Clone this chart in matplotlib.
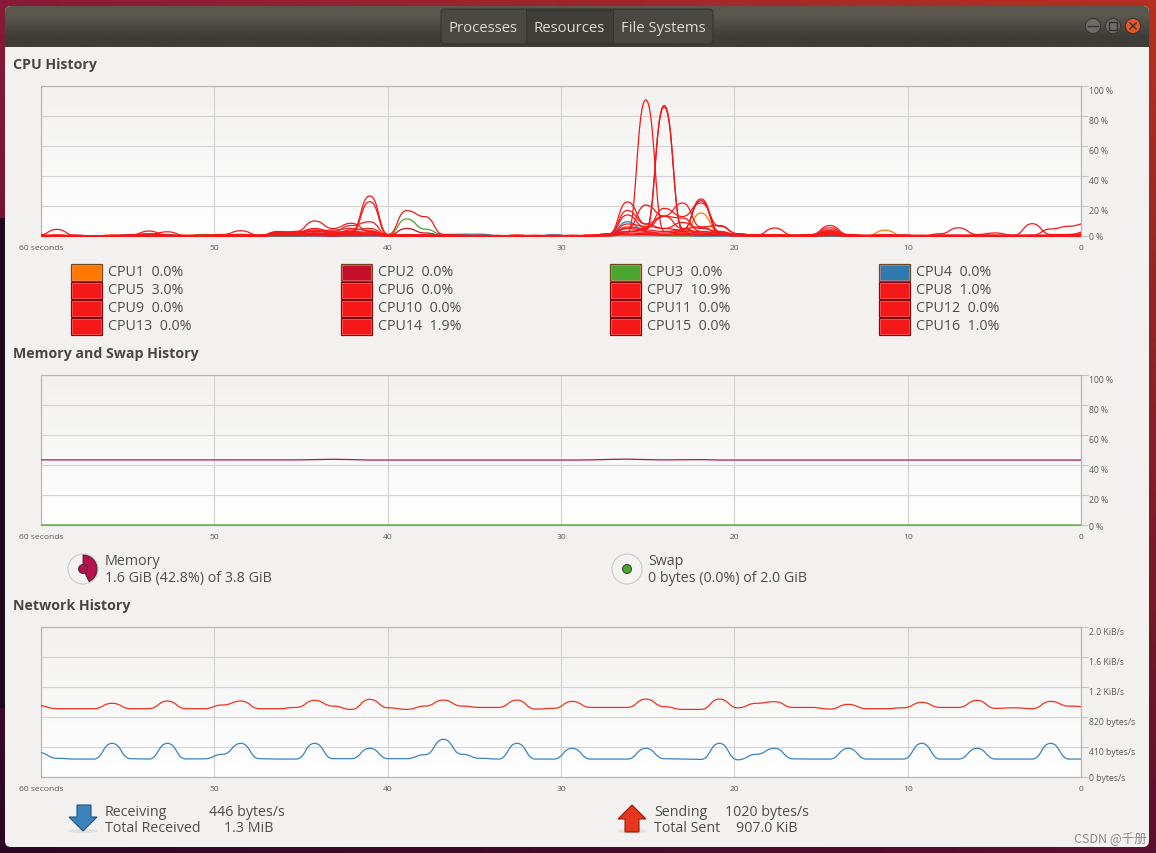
import numpy as np
import matplotlib
matplotlib.use('Agg')
import matplotlib.pyplot as plt
from matplotlib.colors import to_rgb
from matplotlib.path import Path
from matplotlib.patches import PathPatch, Rectangle, Circle, Wedge, Polygon, FancyBboxPatch, Ellipse

W, H = 1156, 854
plt.rcParams['font.family'] = ['Open Sans', 'DejaVu Sans']

# one sample every 1.06 s, listed oldest first (left to right on the chart)
SAMPLE_STEP = 1.0616
SAMPLE_NEWEST = -0.37

x_ticks = [60, 50, 40, 30, 20, 10, 0]
x_labels = ['60 seconds', '50', '40', '30', '20', '10', '0']
pct_ticks = [0, 20, 40, 60, 80, 100]
pct_labels = ['0 %', '20 %', '40 %', '60 %', '80 %', '100 %']
net_ticks = [0, 409.6, 819.2, 1228.8, 1638.4, 2048]
net_labels = ['0 bytes/s', '410 bytes/s', '820 bytes/s', '1.2 KiB/s', '1.6 KiB/s', '2.0 KiB/s']

cpu1 = [1, 0, 0, 0, 0.5, 0.5, 0, 0, 0.5, 1,
        0.5, 0, 0, 0, 0.5, 0.5, 0.5, 0, 0.5, 1,
        0, 0, 0, 0.5, 0, 0, 0.5, 0, 0.5, 0,
        0, 0.5, 1, 1.5, 1, 1, 15.3, 2, 1, 0,
        0, 0, 0.5, 2.5, 1, 0, 3.9, 0, 0, 0,
        0, 0, 0, 0, 0, 0, 1, 0]
cpu2 = [0, 0, 0.5, 0, 0, 0, 0.5, 0, 0, 0.5,
        0, 0, 0, 0.5, 0.5, 1, 0, 1.5, 1, 0.5,
        5, 2, 0.5, 0, 0, 0, 0, 0, 0, 0,
        0, 0.5, 3, 4, 86, 4, 23.5, 2, 0.5, 0,
        0.5, 0, 0, 1.5, 0, 0, 0, 0, 0, 0,
        0, 0, 0, 0, 0, 0, 0, 0]
cpu3 = [0, 0, 0, 0, 0, 0, 0, 0, 0, 1,
        0, 0, 0.5, 0, 0, 1, 1, 1.5, 0.5, 0.5,
        11.4, 4.6, 1, 0.3, 0, 0, 0, 0, 0, 0,
        0, 1, 0.5, 0.5, 0.3, 0, 0.3, 0.5, 0.3, 0,
        0, 0, 0, 0, 0, 0, 0, 0, 0, 0,
        0, 0, 0, 0, 0, 0, 0, 0]
cpu4 = [0, 0, 0, 0, 0, 1, 1.6, 1, 0, 0,
        0, 0, 0, 0, 0, 0, 0, 0, 0, 0,
        0.5, 0.5, 1, 1.2, 1.2, 0.3, 0, 0, 0.8, 0,
        0, 1, 9.5, 3, 1, 0.5, 0, 0, 0, 0,
        0, 0, 0, 0, 0, 0, 0, 0.5, 0, 0,
        0, 0, 0, 0, 0, 0, 0, 0]
cpu5 = [0.5, 4.4, 0.3, 0, 0.3, 0.5, 1, 0.5, 0.3, 0.5,
        0.5, 1, 0.5, 1.5, 2, 3, 2.5, 3, 26.7, 1,
        0.5, 0.5, 0.3, 0, 0.3, 0, 0, 0.5, 0, 0,
        0.5, 1, 2, 90.7, 3, 2, 1, 1, 1, 0.5,
        0.5, 0.5, 1, 1.5, 0.5, 0.3, 0.5, 0.3, 0, 0.5,
        0.3, 0.5, 0.3, 0.3, 0.5, 0.5, 1, 3]
cpu6 = [0, 0.5, 0.3, 0, 0.3, 0.5, 3.3, 0.5, 0.3, 0,
        0.5, 1, 0.5, 2, 1.5, 2, 1.5, 2, 22.9, 0.5,
        0.5, 0.5, 0.3, 0, 0, 0.3, 0, 0, 0.5, 0,
        0.5, 1.5, 3, 4, 87, 5, 2, 1, 0.5, 0.5,
        1, 0.5, 0.5, 1, 0.5, 0, 0.3, 0.3, 0.5, 0.3,
        0.5, 0.3, 0.5, 0.3, 0.3, 0.5, 0.5, 0.5]
cpu7 = [0.3, 0.5, 0, 0, 0.3, 0.5, 1, 2.8, 0.3, 0.5,
        1, 3.5, 0.5, 2, 3, 10, 5, 8.5, 3, 1,
        16.9, 12.9, 1, 0.5, 0.3, 0, 0.5, 0, 0.3, 0,
        0.5, 1.5, 22.7, 8, 5, 4, 24.7, 3, 1, 0.5,
        5.3, 0.5, 1, 7, 1, 0.5, 1, 0.5, 0.3, 0.5,
        0.5, 0.5, 0.5, 0.5, 0.5, 4.7, 6.5, 8.5]
cpu8 = [0.5, 0, 0.5, 0, 0.5, 0, 1, 0.3, 0, 0,
        0.5, 1, 0.3, 3, 2.5, 5, 3, 7, 9.5, 0.5,
        0.5, 0.5, 0, 0, 0.5, 0.3, 0, 0, 0, 0.5,
        0, 1, 17, 8, 13.3, 22, 6, 2, 0.5, 1,
        0.5, 0, 0.5, 4, 0.5, 0.3, 0.5, 0.5, 0, 1.5,
        5.5, 1, 2, 0.5, 8.2, 1, 1, 1]
cpu9 = [0, 0.5, 0, 0, 0, 0.3, 0.5, 0.5, 0, 0.3,
        0.3, 0.5, 0, 2.5, 2, 4, 1.5, 4, 5, 0.5,
        1, 0.5, 0.3, 0, 0, 0.3, 0, 0.3, 0, 0,
        0.3, 1, 5, 20.6, 13.3, 5, 6, 7, 1.5, 0.5,
        0.5, 0, 0.5, 2.5, 0.3, 0, 0.5, 0.5, 0, 0.5,
        0.3, 0.3, 0, 0, 0.5, 0.3, 0.5, 0]
cpu10 = [0, 0, 0, 0.3, 0, 0.3, 0.5, 0, 0.3, 0,
         0.5, 0.5, 0, 1.5, 3, 3, 4, 5, 3.5, 0.3,
         0.5, 0.5, 0.3, 0.5, 0, 0, 0.5, 0, 0.3, 0,
         0, 0.5, 6, 5, 18.4, 13, 22, 6.5, 1.5, 0.3,
         0.5, 0.3, 0, 4, 0.5, 0, 0, 0, 0.3, 0,
         0, 0.5, 0.3, 0, 0, 0, 0.5, 0]
cpu11 = [0.3, 0.5, 0, 0, 0, 0.5, 0, 0.3, 0, 0.3,
         0, 0.5, 0.3, 2, 1.5, 3.5, 2.5, 3, 2.5, 0.5,
         0, 0, 0.5, 0.3, 0, 0, 0, 0, 0, 0.3,
         0.3, 1, 14, 5.5, 13, 12, 3, 2, 1, 0.5,
         0.3, 0.5, 0.3, 5.5, 0.5, 0.3, 0.3, 0.3, 0, 0.3,
         0.3, 0, 0.3, 0.5, 0, 0.3, 0, 0]
cpu12 = [0, 0.3, 0, 0, 0, 0.3, 0.3, 0, 0.3, 0,
         0.3, 0, 0, 1, 0.5, 2, 1.5, 2.5, 2, 0.3,
         0.3, 0.3, 0, 0, 0.3, 0, 0.3, 0, 0, 0,
         0.3, 0.5, 8, 6.5, 5, 9, 5, 3, 0.5, 0.3,
         0.3, 0, 0.3, 3, 0.3, 0, 0, 0.3, 0.3, 0,
         0, 0.3, 0.3, 0, 0, 0, 0.3, 0]
cpu13 = [0.3, 0, 0.3, 0, 0, 0, 0.3, 0.3, 0, 0,
         0, 0.3, 0, 0.5, 0.5, 1.5, 1, 1.5, 1.5, 0,
         0.3, 0, 0, 0, 0, 0.3, 0, 0.3, 0, 0,
         0, 0.5, 5, 4, 3, 4, 3, 2, 0.3, 0,
         0, 0.3, 0, 1.5, 0, 0, 0, 0, 0.3, 0,
         0.3, 0, 0, 0, 0, 0.3, 0, 0]
cpu14 = [0, 0.3, 0, 0, 0.3, 0, 0, 0.3, 0, 0,
         0.3, 0, 0, 1.2, 1, 1, 0.5, 1, 1, 0.3,
         0, 0, 0, 0, 0, 0, 0, 0, 0.3, 0,
         0, 0.3, 3, 2.5, 2, 3, 2, 1, 0.3, 0.3,
         0.3, 0, 0, 1, 0, 0.3, 0, 0, 0, 0,
         0, 0, 0, 0.3, 0, 0, 0.3, 1.9]
cpu15 = [0, 0, 0.3, 0, 0, 0.3, 0, 0, 0, 0.3,
         0, 0.3, 0, 0.5, 0.5, 0.5, 0.5, 0.5, 0.5, 0,
         0, 0.3, 0, 0, 0, 0, 0, 0, 0, 0,
         0.3, 0, 2, 1.5, 1, 2, 1, 0.5, 0.5, 0,
         0, 0, 0.3, 0.5, 0, 0, 0, 0, 0, 0.3,
         0, 0, 0, 0, 0.3, 0, 0, 0]
cpu16 = [0.3, 0, 0, 0, 0, 0, 0.3, 0, 0, 0,
         0, 0, 0.3, 0.3, 0.3, 0.3, 0, 0.3, 0.3, 0.3,
         0, 0, 0.3, 0, 0, 0.3, 0, 0, 0, 0.3,
         0, 0.3, 1, 1, 0.5, 1, 0.5, 0.5, 0, 0,
         0.3, 0, 0, 0.3, 0.3, 0, 0, 0.3, 0, 0,
         0.3, 0, 0, 0, 0, 0, 0.3, 1.0]
cpu_values = [cpu1, cpu2, cpu3, cpu4, cpu5, cpu6, cpu7, cpu8,
              cpu9, cpu10, cpu11, cpu12, cpu13, cpu14, cpu15, cpu16]
cpu_percent = ['0.0%', '0.0%', '0.0%', '0.0%', '3.0%', '0.0%', '10.9%', '1.0%',
               '0.0%', '0.0%', '0.0%', '0.0%', '0.0%', '1.9%', '0.0%', '1.0%']
RED = '#f51818'
cpu_colors = ['#ff7800', '#c40f2b', '#4aa52e', '#2f7bb0'] + [RED] * 12

memory = [43.4, 43.4, 43.4, 43.4, 43.4, 43.4, 43.4, 43.4, 43.4, 43.4,
          43.4, 43.4, 43.4, 43.4, 43.4, 43.6, 43.8, 43.6, 43.3, 43.3,
          43.3, 43.3, 43.3, 43.3, 43.3, 43.3, 43.3, 43.3, 43.3, 43.3,
          43.4, 43.7, 43.9, 43.6, 43.4, 43.5, 43.6, 43.3, 43.3, 43.3,
          43.3, 43.3, 43.3, 43.3, 43.3, 43.3, 43.3, 43.3, 43.3, 43.3,
          43.3, 43.3, 43.3, 43.3, 43.3, 43.3, 43.3, 43.3]
swap = [0] * 58

sending = [973, 933, 933, 933, 1006, 933, 933, 1037, 933, 933,
           983, 1037, 933, 933, 950, 1046, 968, 923, 1060, 945,
           923, 968, 1050, 968, 950, 950, 1050, 928, 937, 1032,
           950, 950, 950, 1064, 960, 923, 923, 1064, 945, 1006,
           1028, 950, 950, 928, 991, 933, 933, 945, 1019, 950,
           950, 1046, 937, 945, 933, 1032, 968, 960]
receiving = [335, 255, 245, 245, 460, 250, 245, 460, 247, 248,
             310, 460, 250, 245, 245, 460, 250, 250, 392, 250,
             250, 305, 515, 310, 255, 245, 460, 245, 245, 392,
             245, 245, 245, 392, 250, 245, 240, 460, 235, 310,
             392, 248, 245, 245, 392, 245, 245, 245, 460, 245,
             245, 392, 245, 245, 245, 460, 245, 245]

TEXT = '#4e4e4e'
TITLE = '#464646'
LABEL = '#5a5a5a'
BODY = '#f2f1f0'
FONT = 10.3


def smooth_path(values):
    # same curve the system monitor draws: flat tangents at every sample
    n = len(values)
    ages = SAMPLE_NEWEST + SAMPLE_STEP * np.arange(n - 1, -1, -1)
    verts = [(ages[0], values[0])]
    codes = [Path.MOVETO]
    for i in range(1, n):
        mid = (ages[i - 1] + ages[i]) / 2
        verts += [(mid, values[i - 1]), (mid, values[i]), (ages[i], values[i])]
        codes += [Path.CURVE4] * 3
    return Path(verts, codes)


def graph_axes(top, ymax, yticks, ylabels):
    ax = fig.add_axes([41 / W, 1 - (top + 150) / H, 1040 / W, 150 / H])
    ax.set_xlim(60, 0)
    ax.set_ylim(0, ymax)
    ax.imshow(np.linspace(0, 1, 150)[:, None], cmap=shade, aspect='auto', extent=(60, 0, 0, ymax),
              zorder=0, vmin=0, vmax=1)
    ax.set_xlim(60, 0)
    ax.set_ylim(0, ymax)
    ax.set_xticks(x_ticks, x_labels)
    ax.set_yticks(yticks, ylabels)
    ax.yaxis.tick_right()
    ax.grid(True, color='#d3d3d3', lw=0.85)
    ax.set_axisbelow(True)
    ax.tick_params(axis='x', length=0, pad=6, labelsize=6.1, labelcolor=LABEL)
    ax.tick_params(axis='y', length=5, width=0.8, color='#c4c4c4', pad=1, labelsize=6.2, labelcolor=LABEL)
    for tick, value in zip(ax.yaxis.get_major_ticks(), yticks):
        if value > 0:
            tick.label2.set_verticalalignment('top')
    for side, spine in ax.spines.items():
        spine.set_color('#b6b6b6')
        spine.set_linewidth(0.85)
    ax.patch.set_alpha(0)
    return ax


def draw_lines(ax, series, colors):
    # clip a little below the axes so lines sitting on 0 keep their full width
    clip = Rectangle((0, -0.012), 1, 1.012, transform=ax.transAxes)
    for values, color in zip(series, colors):
        line = PathPatch(smooth_path(values), fill=False, edgecolor=color, lw=0.9, zorder=3)
        ax.add_patch(line)
        line.set_clip_path(clip)


fig = plt.figure(figsize=(W / 100, H / 100), dpi=100)
shade = matplotlib.colors.LinearSegmentedColormap.from_list('shade', ['#f2f1f0', '#ffffff'])

# desktop and window chrome, in pixel coordinates
bg = fig.add_axes([0, 0, 1, 1])
corners = np.array([[to_rgb('#8a1a3a'), to_rgb('#b5301f')], [to_rgb('#2c0824'), to_rgb('#5c0f2e')]])
u = np.linspace(0, 1, 64)[:, None, None]
v = np.linspace(0, 1, 64)[None, :, None]
desktop = (1 - u) * ((1 - v) * corners[0, 0] + v * corners[0, 1]) + u * ((1 - v) * corners[1, 0] + v * corners[1, 1])
bg.imshow(desktop, extent=(0, W, H, 0), aspect='auto', interpolation='bilinear', zorder=0)
bg.add_patch(Rectangle((0, 218), 5, 490, fc='#1f0a1c', ec='none', zorder=1))
bg.add_patch(FancyBboxPatch((9, 10), 1136, 833, boxstyle='round,pad=4,rounding_size=6', fc=BODY, ec='none', zorder=2))
title_clip = FancyBboxPatch((9, 10), 1136, 60, boxstyle='round,pad=4,rounding_size=6', fc='none', ec='none',
                            transform=bg.transData)
bg.add_patch(title_clip)
title_bar = bg.imshow(np.array([[to_rgb('#5a574e')], [to_rgb('#3f3d38')]]), extent=(5, 1149, 47, 6), aspect='auto',
                      interpolation='bilinear', zorder=3)
title_bar.set_clip_path(title_clip)
bg.add_patch(FancyBboxPatch((444, 12), 266, 29, boxstyle='round,pad=3,rounding_size=4', fc='#4a4842',
                            ec='#36342f', lw=0.8, zorder=4))
bg.add_patch(Rectangle((526, 10), 87, 33, fc='#403e39', ec='#36342f', lw=0.8, zorder=4))
for x, name in zip([483, 569, 663], ['Processes', 'Resources', 'File Systems']):
    bg.text(x, 27.5, name, ha='center', va='center', color='#dfdbd2', fontsize=10.7, zorder=5)
for x, face in zip([1093, 1113, 1133], ['#6d6b65', '#6d6b65', '#e9562a']):
    bg.add_patch(Circle((x, 26), 7.6, fc=face, ec='#3a3833', lw=0.8, zorder=4))
bg.plot([1088, 1098], [26, 26], color='#33312d', lw=1, zorder=5)
bg.add_patch(Rectangle((1109, 22), 8, 8, fc='none', ec='#33312d', lw=1, zorder=5))
bg.plot([1130, 1136], [23, 29], color='#33312d', lw=1, zorder=5)
bg.plot([1130, 1136], [29, 23], color='#33312d', lw=1, zorder=5)

for y, name in zip([64, 353, 605], ['CPU History', 'Memory and Swap History', 'Network History']):
    bg.text(13, y, name, ha='left', va='center', color=TITLE, fontsize=10.2, fontweight='bold', zorder=5)

# cpu legend
columns = [70, 340, 609, 878]
rows = [263, 281, 299, 317]
for i, (color, pct) in enumerate(zip(cpu_colors, cpu_percent)):
    x, y = columns[i % 4], rows[i // 4]
    bg.add_patch(Rectangle((x + 0.5, y + 0.5), 31, 17, fc=color, ec='#7a0c10' if color == RED else '#6e4a20', lw=0.9, zorder=4))
    bg.add_patch(Rectangle((x + 1.5, y + 1.5), 29, 15, fc='none', ec='#ff8a80', lw=0.5, alpha=0.7, zorder=5))
    bg.text(x + 38, y + 9, f'CPU{i + 1}  {pct}', ha='left', va='center', color=TEXT, fontsize=FONT, zorder=5)

# memory and swap
bg.add_patch(Circle((83, 569), 15, fc='#f4f3f2', ec='#cfcdca', lw=0.9, zorder=4))
bg.add_patch(Wedge((83, 569), 14, -90, 64, fc='#b5124f', ec='#4a2a38', lw=0.7, zorder=5))
bg.add_patch(Circle((83, 569), 4.5, fc='#b5124f', ec='#4a2a38', lw=0.7, zorder=5))
bg.add_patch(Circle((83, 569), 3.5, fc='#b5124f', ec='none', zorder=6))
bg.add_patch(Circle((627, 569), 15, fc='#f4f3f2', ec='#cfcdca', lw=0.9, zorder=4))
bg.add_patch(Circle((627, 569), 4.5, fc='#4aa52e', ec='#2d4a25', lw=0.7, zorder=5))
bg.text(105, 561, 'Memory', ha='left', va='center', color=TEXT, fontsize=FONT, zorder=5)
bg.text(105, 578, '1.6 GiB (42.8%) of 3.8 GiB', ha='left', va='center', color=TEXT, fontsize=FONT, zorder=5)
bg.text(648, 561, 'Swap', ha='left', va='center', color=TEXT, fontsize=FONT, zorder=5)
bg.text(648, 578, '0 bytes (0.0%) of 2.0 GiB', ha='left', va='center', color=TEXT, fontsize=FONT, zorder=5)

# network icons and text
bg.add_patch(Ellipse((83, 831), 30, 4, fc='#e2e0de', ec='none', zorder=4))
bg.add_patch(Polygon([(77, 805), (91, 805), (91, 817), (97, 817), (83, 831), (69, 817), (77, 817)], fc='#3c82bd',
                     ec='#24567f', lw=0.8, zorder=5))
bg.add_patch(Ellipse((632, 831), 30, 4, fc='#e2e0de', ec='none', zorder=4))
bg.add_patch(Polygon([(625, 832), (639, 832), (639, 819), (646, 819), (632, 805), (618, 819), (625, 819)], fc='#e8361c',
                     ec='#8f1f10', lw=0.8, zorder=5))
bg.text(105, 812, 'Receiving', ha='left', va='center', color=TEXT, fontsize=FONT, zorder=5)
bg.text(105, 828, 'Total Received', ha='left', va='center', color=TEXT, fontsize=FONT, zorder=5)
bg.text(209, 812, '446 bytes/s', ha='left', va='center', color=TEXT, fontsize=FONT, zorder=5)
bg.text(224, 828, '1.3 MiB', ha='left', va='center', color=TEXT, fontsize=FONT, zorder=5)
bg.text(654, 812, 'Sending', ha='left', va='center', color=TEXT, fontsize=FONT, zorder=5)
bg.text(654, 828, 'Total Sent', ha='left', va='center', color=TEXT, fontsize=FONT, zorder=5)
bg.text(725, 812, '1020 bytes/s', ha='left', va='center', color=TEXT, fontsize=FONT, zorder=5)
bg.text(736, 828, '907.0 KiB', ha='left', va='center', color=TEXT, fontsize=FONT, zorder=5)
bg.text(1147, 838, 'CSDN @千册', ha='right', va='center', color='#8a8a8a', fontsize=9, zorder=6,
        family=['Noto Sans CJK SC', 'DejaVu Sans'])
bg.set_xlim(0, W)
bg.set_ylim(H - 1, -1)
bg.axis('off')

# the three history graphs
ax_cpu = graph_axes(87, 100, pct_ticks, pct_labels)
draw_lines(ax_cpu, cpu_values, cpu_colors)

ax_mem = graph_axes(376, 100, pct_ticks, pct_labels)
draw_lines(ax_mem, [memory, swap], ['#ad1457', '#4aa52e'])

ax_net = graph_axes(628, 2048, net_ticks, net_labels)
draw_lines(ax_net, [receiving, sending], ['#3c82bd', '#ee3322'])

fig.savefig('out.png', dpi=100)
